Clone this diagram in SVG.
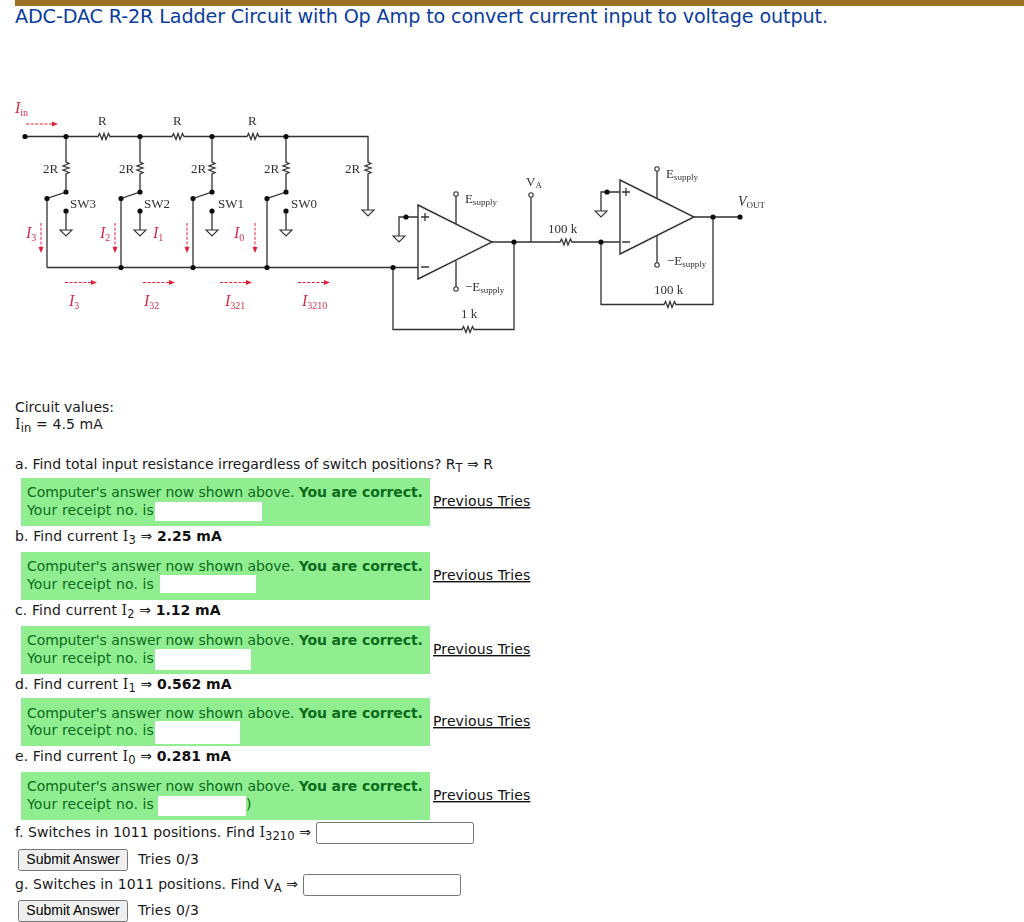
<svg xmlns="http://www.w3.org/2000/svg" width="1024" height="922" viewBox="0 0 1024 922">
<style>
text{font-family:"DejaVu Sans",Verdana,sans-serif;font-size:14px;letter-spacing:0.12px;fill:#1a1a1a}
.title{font-size:19.2px;letter-spacing:0;fill:#0a3d9c}
.g{fill:#0b6b1c}
.gb{fill:#0b6b1c;font-weight:bold}
.b{font-weight:bold;fill:#111;letter-spacing:0}
.sub{font-size:11.5px}
.ser{font-family:"DejaVu Serif",serif}
.lnk{text-decoration:underline;fill:#111}
.box{fill:#90ee90}
.wh{fill:#fff}
.btnt{font-family:"Liberation Sans",Arial,sans-serif;font-size:14px;letter-spacing:0;fill:#000}
.btn{fill:#efefef;stroke:#767676;stroke-width:1}
.inp{fill:#fff;stroke:#767676;stroke-width:1}
.w{fill:none;stroke:#333;stroke-width:1.3}
.t{fill:#fff;stroke:#333;stroke-width:1.1}
.d{fill:#111}
.o{fill:#fff;stroke:#333;stroke-width:1.1}
.c{font-family:"Liberation Serif",serif;font-size:13px;letter-spacing:0;fill:#333}
.cs{font-family:"Liberation Serif",serif;font-style:normal;font-size:9px;letter-spacing:0;fill:#333}
.ci{font-family:"Liberation Serif",serif;font-style:italic;font-size:14px;letter-spacing:0;fill:#333}
.r{font-family:"Liberation Serif",serif;font-style:italic;font-size:16px;letter-spacing:0;fill:#d0304a}
.rs{font-family:"Liberation Serif",serif;font-style:normal;font-size:10px;letter-spacing:0;fill:#d0304a}
.ra{fill:none;stroke:#e0203a;stroke-width:1;stroke-dasharray:3 1.6}
.rh{fill:#e0203a}
</style>
<defs>
<path id="rh" class="w" d="M-8 0H-6L-4.500 -3L-2 3L0 -3L2 3L4.500 -3L6 0H8"/>
<path id="rv" class="w" d="M0 -8V-6L3 -4.500L-3 -2L3 0L-3 2L3 4.500L0 6V8"/>
<g id="gnd"><path class="w" d="M0 0V5"/><path class="t" d="M-6 5H6L0 11Z"/></g>
<g id="arh"><path class="ra" d="M0 0H26"/><path class="rh" d="M26 -2.500L32 0L26 2.500Z"/></g>
<g id="arv"><path class="ra" d="M0 0V24"/><path class="rh" d="M-2.500 24L0 30L2.500 24Z"/></g>
<filter id="soft" x="-2%" y="-2%" width="104%" height="104%"><feGaussianBlur stdDeviation="0.35"/></filter>
</defs>
<rect width="1024" height="922" fill="#fff"/>
<rect id="top-bar" x="15" y="0" width="1009" height="6" fill="#9a7126"/>
<text class="title" x="15" y="23" textLength="813" lengthAdjust="spacing">ADC-DAC R-2R Ladder Circuit with Op Amp to convert current input to voltage output.</text>

<g id="circuit" filter="url(#soft)">
<g id="connectors">
<path class="w" d="M25 136.500H96M112 136.500H170M186 136.500H245M261 136.500H368V160"/>
<path class="w" d="M66 136.500V160M66 176V192L47 198.500V267.500M140 136.500V160M140 176V192L121 198.500V267.500M212 136.500V160M212 176V192L193 198.500V267.500M286 136.500V160M286 176V192L267 198.500V267.500M47 267.500H418"/>
<path class="w" d="M368 176V205M66 211V225M140 211V225M212 211V225M286 211V225"/>
<path class="w" d="M393 267.500V329.500H460M476 329.500H514V242M492 242H558M574 242H620M531 242V197M456 224V196M456 261V287"/>
<path class="w" d="M601 242V304.500H662M678 304.500H713V217M418 217H399V231"/>
<path class="w" d="M694 217H740M620 192H601V206M657 198V171M657 236V263"/>
</g>
<g id="resistors">
<use href="#rh" x="104" y="136.500"/><use href="#rh" x="178" y="136.500"/><use href="#rh" x="253" y="136.500"/>
<use href="#rv" x="66" y="168"/><use href="#rv" x="140" y="168"/><use href="#rv" x="212" y="168"/><use href="#rv" x="286" y="168"/><use href="#rv" x="368" y="168"/>
<use href="#rh" x="468" y="329.500"/><use href="#rh" x="566" y="242"/><use href="#rh" x="670" y="304.500"/>
</g>
<g id="grounds">
<use href="#gnd" x="66" y="225"/><use href="#gnd" x="140" y="225"/><use href="#gnd" x="212" y="225"/><use href="#gnd" x="286" y="225"/><use href="#gnd" x="368" y="205"/><use href="#gnd" x="399" y="231"/><use href="#gnd" x="601" y="206"/>
</g>
<g id="opamp1"><path d="M418 205V279L492 242Z" fill="#fff" stroke="#333" stroke-width="1.4"/><path class="w" d="M421 217H429M425 213V221M421 267H429"/></g>
<g id="opamp2"><path d="M620 180V254L694 217Z" fill="#fff" stroke="#333" stroke-width="1.4"/><path class="w" d="M622 192H630M626 188V196M622 242H630"/></g>
<g id="dots">
<g class="d"><circle cx="25" cy="136.500" r="2.600"/><circle cx="66" cy="136.500" r="2.600"/><circle cx="140" cy="136.500" r="2.600"/><circle cx="212" cy="136.500" r="2.600"/><circle cx="286" cy="136.500" r="2.600"/>
<circle cx="66" cy="192" r="2.600"/><circle cx="140" cy="192" r="2.600"/><circle cx="212" cy="192" r="2.600"/><circle cx="286" cy="192" r="2.600"/>
<circle cx="47" cy="198.500" r="2.600"/><circle cx="121" cy="198.500" r="2.600"/><circle cx="193" cy="198.500" r="2.600"/><circle cx="267" cy="198.500" r="2.600"/>
<circle cx="66" cy="211" r="2.600"/><circle cx="140" cy="211" r="2.600"/><circle cx="212" cy="211" r="2.600"/><circle cx="286" cy="211" r="2.600"/>
<circle cx="121" cy="267.500" r="2.600"/><circle cx="193" cy="267.500" r="2.600"/><circle cx="267" cy="267.500" r="2.600"/><circle cx="393" cy="267.500" r="2.600"/>
<circle cx="406" cy="217" r="2.600"/><circle cx="514" cy="242" r="2.600"/><circle cx="607" cy="192" r="2.600"/><circle cx="601" cy="242" r="2.600"/><circle cx="713" cy="217" r="2.600"/><circle cx="740" cy="217" r="2.600"/></g>
<circle class="o" cx="456" cy="194" r="2.200"/><circle class="o" cx="456" cy="289" r="2.200"/><circle class="o" cx="531" cy="195" r="2.200"/><circle class="o" cx="657" cy="169" r="2.200"/><circle class="o" cx="657" cy="265" r="2.200"/>
</g>
<g id="labels">
<text class="c" x="98" y="125">R</text><text class="c" x="173" y="125">R</text><text class="c" x="248" y="125">R</text>
<text class="c" x="43" y="173">2R</text><text class="c" x="119" y="173">2R</text><text class="c" x="191" y="173">2R</text><text class="c" x="264" y="173">2R</text><text class="c" x="345" y="173">2R</text>
<text class="c" x="70" y="208">SW3</text><text class="c" x="144" y="208">SW2</text><text class="c" x="218" y="208">SW1</text><text class="c" x="291" y="208">SW0</text>
<text class="c" x="465" y="203">E<tspan class="cs" dy="2">supply</tspan></text>
<text class="c" x="465" y="291">−E<tspan class="cs" dy="2">supply</tspan></text>
<text class="c" x="666" y="178">E<tspan class="cs" dy="2">supply</tspan></text>
<text class="c" x="667" y="265">−E<tspan class="cs" dy="2">supply</tspan></text>
<text class="c" x="526" y="186">V<tspan class="cs" dy="2">A</tspan></text>
<text class="c" x="548" y="233">100 k</text><text class="c" x="654" y="294">100 k</text><text class="c" x="461" y="318">1 k</text>
<text class="ci" x="738" y="206">V<tspan class="cs" dy="2">OUT</tspan></text>
</g>
<g id="currents">
<text class="r" x="15" y="113">I<tspan class="rs" dy="3">in</tspan></text>
<use href="#arh" x="26" y="124"/><use href="#arh" x="65" y="282.500"/><use href="#arh" x="143" y="282.500"/><use href="#arh" x="220" y="282.500"/><use href="#arh" x="298" y="282.500"/>
<use href="#arv" x="41" y="223"/><use href="#arv" x="115" y="223"/><use href="#arv" x="187" y="223"/><use href="#arv" x="255" y="223"/>
<text class="r" x="26" y="238">I<tspan class="rs" dy="3">3</tspan></text>
<text class="r" x="100" y="238">I<tspan class="rs" dy="3">2</tspan></text>
<text class="r" x="153" y="238">I<tspan class="rs" dy="3">1</tspan></text>
<text class="r" x="234" y="238">I<tspan class="rs" dy="3">0</tspan></text>
<text class="r" x="69" y="306">I<tspan class="rs" dy="3">3</tspan></text>
<text class="r" x="144" y="306">I<tspan class="rs" dy="3">32</tspan></text>
<text class="r" x="225" y="306">I<tspan class="rs" dy="3">321</tspan></text>
<text class="r" x="302" y="306">I<tspan class="rs" dy="3">3210</tspan></text>
</g>
</g>

<g id="values">
<text x="15" y="412" textLength="99">Circuit values:</text>
<text x="15" y="429"><tspan class="ser">I</tspan><tspan class="sub" dy="3">in</tspan><tspan dy="-3"> = 4.5 mA</tspan></text>
</g>

<g id="part-a">
<text x="15" y="469" textLength="478">a. Find total input resistance irregardless of switch positions? R<tspan class="sub" dy="3">T</tspan><tspan dy="-3"> ⇒ R</tspan></text>
<rect class="box" x="21" y="478" width="409" height="48"/>
<text class="g" x="27" y="497" textLength="396">Computer's answer now shown above. <tspan class="gb">You are correct.</tspan></text>
<text class="g" x="27" y="515">Your receipt no. is</text>
<rect class="wh" x="155" y="502" width="107" height="19"/>
<text class="lnk" x="433" y="506">Previous Tries</text>
</g>
<g id="part-b">
<text x="15" y="541">b. Find current <tspan class="ser">I</tspan><tspan class="sub" dy="3">3</tspan><tspan dy="-3"> ⇒ </tspan><tspan class="b">2.25 mA</tspan></text>
<rect class="box" x="21" y="552" width="409" height="48"/>
<text class="g" x="27" y="571" textLength="396">Computer's answer now shown above. <tspan class="gb">You are correct.</tspan></text>
<text class="g" x="27" y="589">Your receipt no. is</text>
<rect class="wh" x="160" y="575" width="96" height="18"/>
<text class="lnk" x="433" y="580">Previous Tries</text>
</g>
<g id="part-c">
<text x="15" y="615">c. Find current <tspan class="ser">I</tspan><tspan class="sub" dy="3">2</tspan><tspan dy="-3"> ⇒ </tspan><tspan class="b">1.12 mA</tspan></text>
<rect class="box" x="21" y="626" width="409" height="48"/>
<text class="g" x="27" y="645" textLength="396">Computer's answer now shown above. <tspan class="gb">You are correct.</tspan></text>
<text class="g" x="27" y="663">Your receipt no. is</text>
<rect class="wh" x="155" y="649" width="96" height="21"/>
<text class="lnk" x="433" y="654">Previous Tries</text>
</g>
<g id="part-d">
<text x="15" y="689">d. Find current <tspan class="ser">I</tspan><tspan class="sub" dy="3">1</tspan><tspan dy="-3"> ⇒ </tspan><tspan class="b">0.562 mA</tspan></text>
<rect class="box" x="21" y="698" width="409" height="48"/>
<text class="g" x="27" y="718" textLength="396">Computer's answer now shown above. <tspan class="gb">You are correct.</tspan></text>
<text class="g" x="27" y="735">Your receipt no. is</text>
<rect class="wh" x="155" y="721" width="85" height="23"/>
<text class="lnk" x="433" y="726">Previous Tries</text>
</g>
<g id="part-e">
<text x="15" y="761">e. Find current <tspan class="ser">I</tspan><tspan class="sub" dy="3">0</tspan><tspan dy="-3"> ⇒ </tspan><tspan class="b">0.281 mA</tspan></text>
<rect class="box" x="21" y="772" width="409" height="48"/>
<text class="g" x="27" y="791" textLength="396">Computer's answer now shown above. <tspan class="gb">You are correct.</tspan></text>
<text class="g" x="27" y="809">Your receipt no. is</text>
<rect class="wh" x="158" y="796" width="88" height="20"/>
<text class="g" x="246" y="809">)</text>
<text class="lnk" x="433" y="800">Previous Tries</text>
</g>
<g id="part-f">
<text x="15" y="837" textLength="296">f. Switches in 1011 positions. Find <tspan class="ser">I</tspan><tspan class="sub" dy="3">3210</tspan><tspan dy="-3"> ⇒</tspan></text>
<rect class="inp" x="316.500" y="822.500" width="157" height="21" rx="2"/>
<rect class="btn" x="18.500" y="849.500" width="109" height="21" rx="2"/>
<text class="btnt" x="73" y="864" text-anchor="middle">Submit Answer</text>
<text x="138" y="864" textLength="61">Tries 0/3</text>
</g>
<g id="part-g">
<text x="15" y="889" textLength="283">g. Switches in 1011 positions. Find V<tspan class="sub" dy="3">A</tspan><tspan dy="-3"> ⇒</tspan></text>
<rect class="inp" x="303.500" y="874.500" width="157" height="21" rx="2"/>
<rect class="btn" x="18.500" y="900.500" width="109" height="21" rx="2"/>
<text class="btnt" x="73" y="915" text-anchor="middle">Submit Answer</text>
<text x="138" y="915" textLength="61">Tries 0/3</text>
</g>
</svg>
